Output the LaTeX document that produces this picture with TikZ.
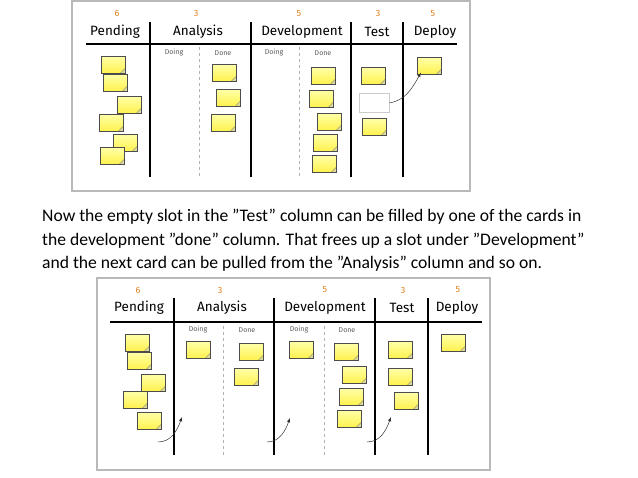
\documentclass[tikz,border=0pt]{standalone}
\usepackage{fontspec}
\setmainfont{Carlito}
\newfontfamily\hand{Fira Sans}
\newcommand{\q}{\char"22\relax}
\begin{document}
\begin{tikzpicture}[x=1pt,y=-1pt,
  frame/.style={draw=gray!55,line width=1.2pt,fill=white},
  hline/.style={line width=1.3pt},
  vline/.style={line width=1.3pt},
  dline/.style={gray!60,dashed,line width=0.5pt},
  num/.style={text=orange!60!brown,font=\hand\fontsize{9}{9}\selectfont},
  ttl/.style={font=\hand\fontsize{13.5}{14}\selectfont},
  sub/.style={font=\hand\fontsize{7}{7}\selectfont,text=gray!70!black},
  card/.style={draw=black!70,line width=0.4pt,top color=yellow!35,bottom color=yellow!85!orange!70,minimum width=24pt,minimum height=17pt,inner sep=0pt,
    path picture={\fill[yellow!50!gray!60] (path picture bounding box.south east) -- ++(-5pt,0) -- ++(5pt,5pt) -- cycle;
      \draw[black!70,line width=0.3pt] ([xshift=-5pt]path picture bounding box.south east) -- ++(5pt,5pt);}},
  empty/.style={draw=gray!40,line width=0.6pt,fill=white,minimum width=30pt,minimum height=19pt,inner sep=0pt},
  arr/.style={-latex,line width=0.5pt,black!80},
  para/.style={font=\fontsize{17.6}{18}\selectfont,anchor=west,inner sep=0pt}]
\useasboundingbox (0,0) rectangle (638,478);
% ---------- top board
\draw[frame] (72,1) rectangle (470,191);
\draw[hline] (86,44) -- (457,44);
\foreach \x in {150,251,351,403} \draw[vline] (\x,22) -- (\x,177);
\foreach \x in {199,299} \draw[dline] (\x,47) -- (\x,177);
\node[num] (tn1) at (117,14) {6};
\node[num] (tn2) at (196,14) {3};
\node[num] (tn3) at (299,14) {5};
\node[num] (tn4) at (378,14) {3};
\node[num] (tn5) at (433,14) {5};
\node[ttl] (tt1) at (115,32) {Pending};
\node[ttl] (tt2) at (198,32) {Analysis};
\node[ttl] (tt3) at (302,32) {Development};
\node[ttl] (tt4) at (377,32) {Test};
\node[ttl] (tt5) at (435,32) {Deploy};
\node[sub] (ts1) at (174,53) {Doing};
\node[sub] (ts2) at (223,53) {Done};
\node[sub] (ts3) at (274,53) {Doing};
\node[sub] (ts4) at (323,53) {Done};
\node[card] (a1) at (113,65) {};
\node[card] (a2) at (115,83) {};
\node[card] (a3) at (129,105) {};
\node[card] (a4) at (111,123) {};
\node[card] (a5) at (125,143) {};
\node[card] (a6) at (112,156) {};
\node[card] (a7) at (224,73) {};
\node[card] (a8) at (228,98) {};
\node[card] (a9) at (223,123) {};
\node[card] (a10) at (323,76) {};
\node[card] (a11) at (321,99) {};
\node[card] (a12) at (329,122) {};
\node[card] (a13) at (325,143) {};
\node[card] (a14) at (324,164) {};
\node[card] (a15) at (373,76) {};
\node[empty] (slot) at (374,103) {};
\node[card] (a16) at (374,127) {};
\node[card] (a17) at (429,66) {};
\draw[arr] (slot.east) to[out=10,in=-120] ([xshift=-8pt,yshift=2pt]a17.south);
% ---------- text
\node[para] (p1) at (42,217) {Now the empty slot in the \q Test\q{} column can be filled by one of the cards in};
\node[para] (p2) at (42,241) {the development \q done\q{} column. That frees up a slot under \q Development\q};
\node[para] (p3) at (42,264) {and the next card can be pulled from the \q Analysis\q{} column and so on.};
% ---------- bottom board
\draw[frame] (97,278) rectangle (490,470);
\draw[hline] (110,322) -- (482,322);
\foreach \x in {174,274,375,428} \draw[vline] (\x,298) -- (\x,455);
\foreach \x in {223,324} \draw[dline] (\x,326) -- (\x,455);
\node[num] (bn1) at (138,290) {6};
\node[num] (bn2) at (220,290) {3};
\node[num] (bn3) at (325,290) {5};
\node[num] (bn4) at (403,290) {3};
\node[num] (bn5) at (458,290) {5};
\node[ttl] (bt1) at (139,308) {Pending};
\node[ttl] (bt2) at (222,308) {Analysis};
\node[ttl] (bt3) at (325,308) {Development};
\node[ttl] (bt4) at (402,308) {Test};
\node[ttl] (bt5) at (457,308) {Deploy};
\node[sub] (bs1) at (198,330) {Doing};
\node[sub] (bs2) at (247,330) {Done};
\node[sub] (bs3) at (299,330) {Doing};
\node[sub] (bs4) at (347,330) {Done};
\node[card] (b1) at (137,343) {};
\node[card] (b2) at (139,361) {};
\node[card] (b3) at (153,383) {};
\node[card] (b4) at (135,400) {};
\node[card] (b5) at (149,421) {};
\node[card] (b6) at (198,350) {};
\node[card] (b7) at (251,352) {};
\node[card] (b8) at (246,377) {};
\node[card] (b9) at (301,350) {};
\node[card] (b10) at (346,352) {};
\node[card] (b11) at (354,375) {};
\node[card] (b12) at (351,397) {};
\node[card] (b13) at (349,419) {};
\node[card] (b14) at (400,350) {};
\node[card] (b15) at (400,377) {};
\node[card] (b16) at (406,401) {};
\node[card] (b17) at (453,343) {};
\coordinate (s1) at (158,442); \coordinate (e1) at (182,417);
\coordinate (s2) at (267,442); \coordinate (e2) at (290,418);
\coordinate (s3) at (367,442); \coordinate (e3) at (391,417);
\draw[arr] (s1) to[out=0,in=-110] (e1);
\draw[arr] (s2) to[out=0,in=-110] (e2);
\draw[arr] (s3) to[out=0,in=-110] (e3);
\end{tikzpicture}
\end{document}
